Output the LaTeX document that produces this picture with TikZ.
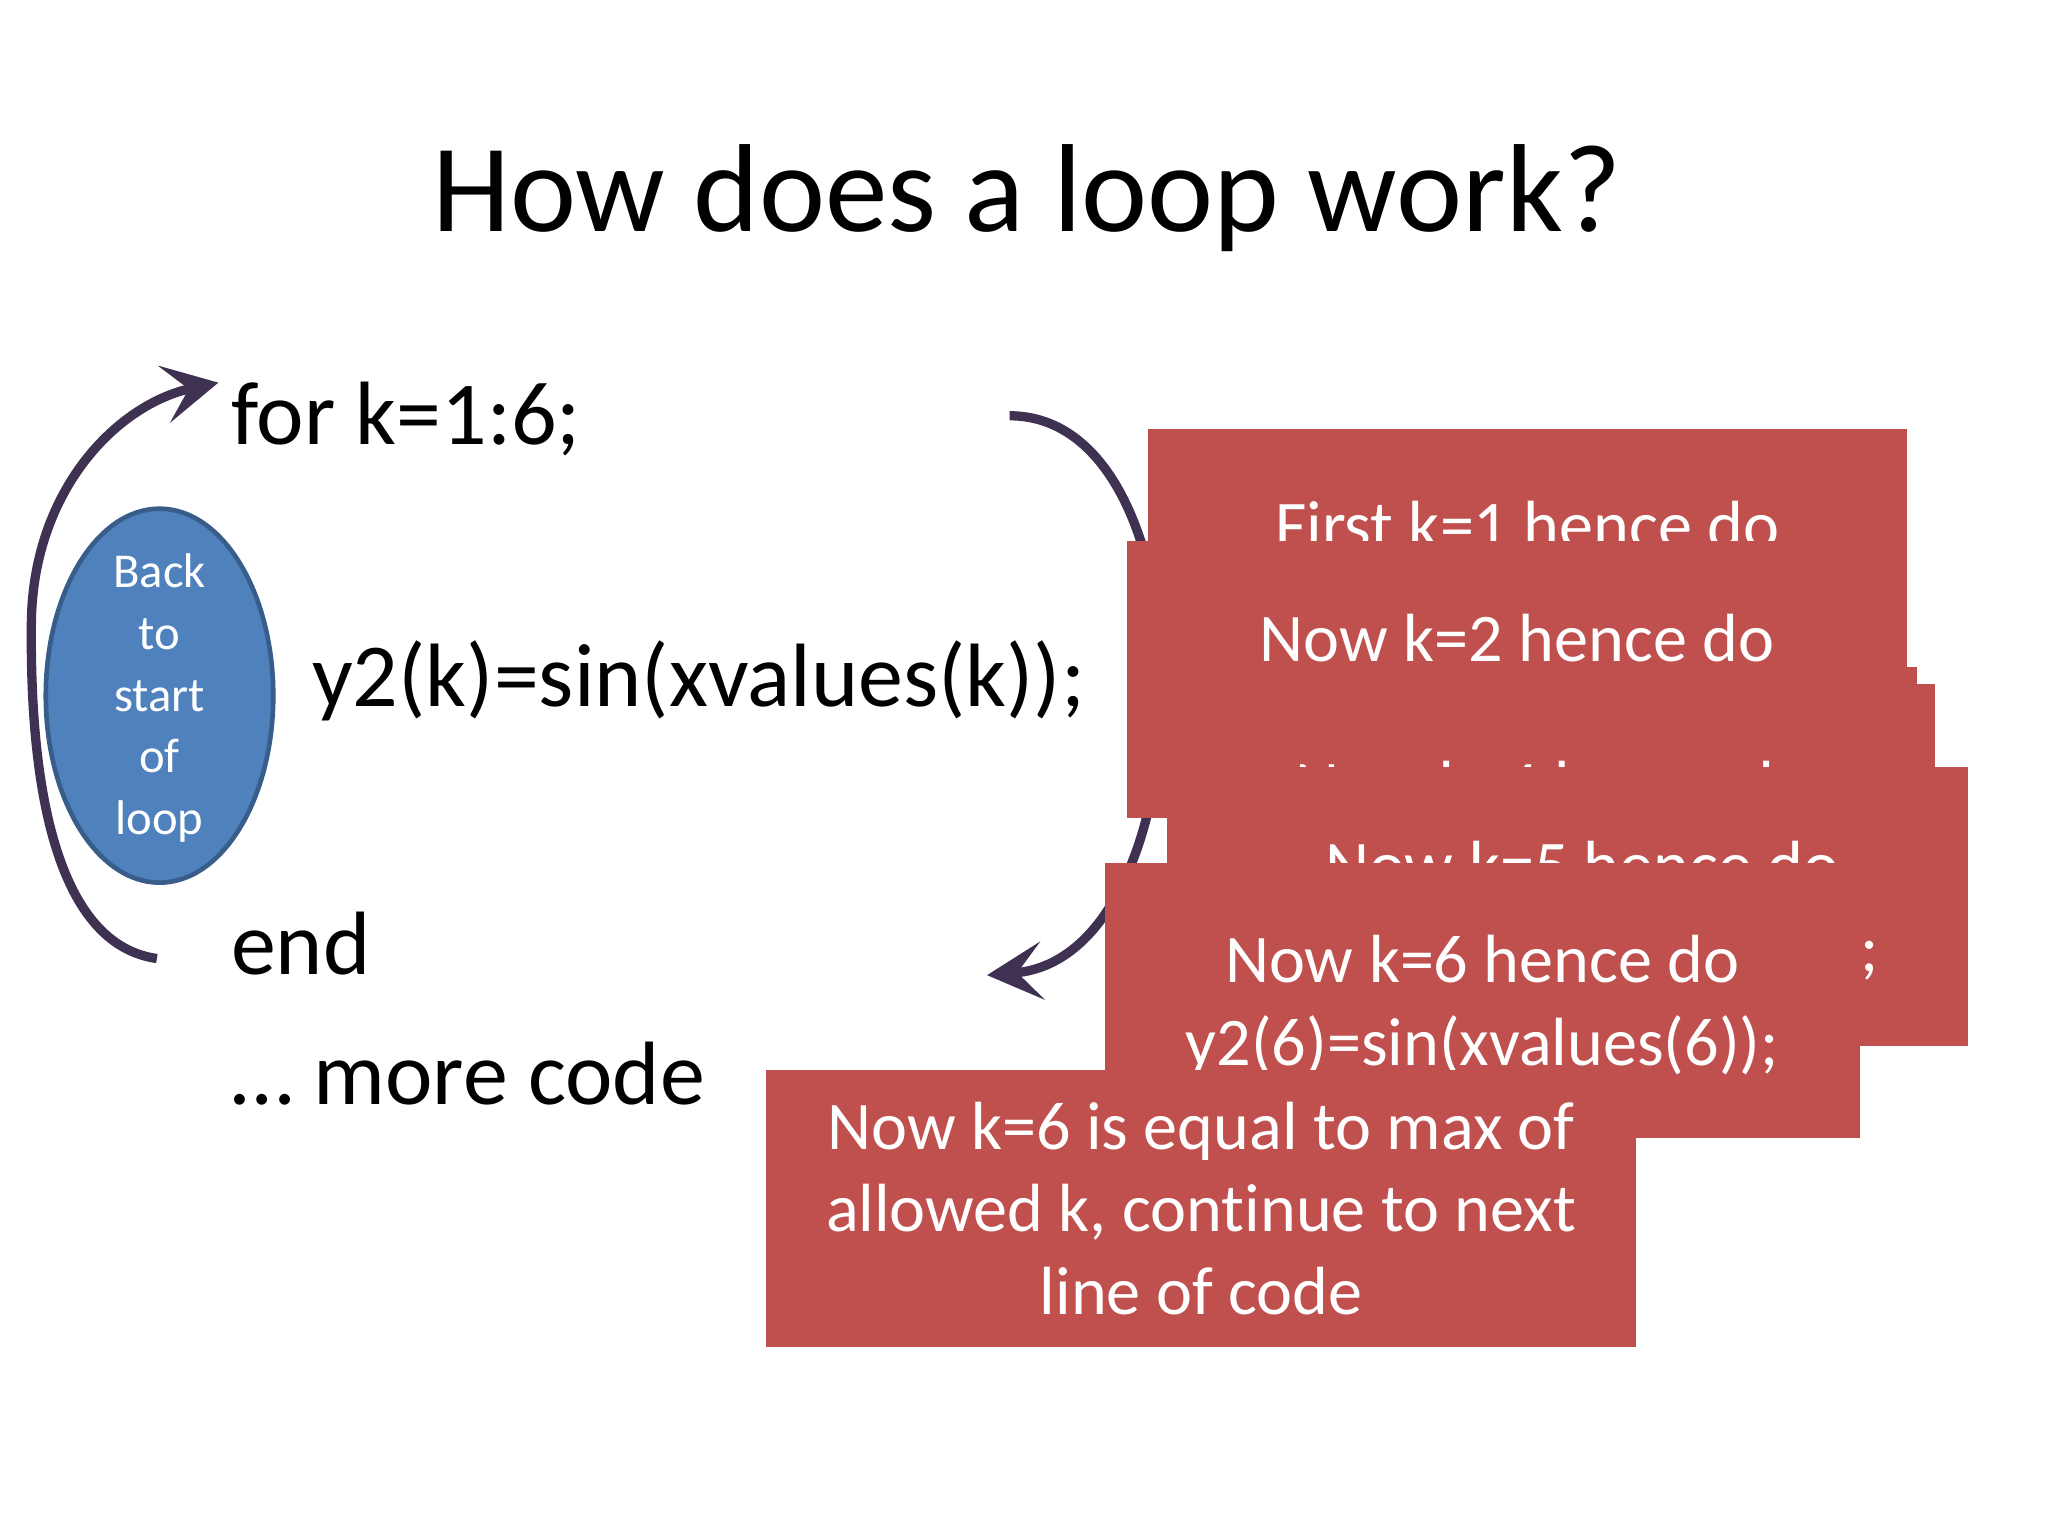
\documentclass[tikz,border=0pt]{standalone}
\usepackage{fontspec}
\setmainfont{Carlito}[Ligatures=CommonOff]
\usetikzlibrary{arrows.meta}
\definecolor{boxred}{HTML}{C0504D}
\definecolor{ovalblue}{HTML}{4F81BD}
\definecolor{ovalline}{HTML}{385D8A}
\definecolor{loopdark}{HTML}{3F3151}

\begin{document}
\begin{tikzpicture}[scale=1,
    codeline/.style={anchor=base west, inner sep=0pt, font=\fontsize{19.4}{23}\selectfont},
    stepbox/.style={fill=boxred, text=white, align=center, inner sep=0pt, text depth=0pt, font=\fontsize{14.7}{17.8}\selectfont},
    looparrow/.style={draw=loopdark, line width=2pt, -{Stealth[length=4.2mm, width=4.4mm, inset=1.9mm]}}]
            \useasboundingbox (0, 0) rectangle (15.52, 11.64);
            \node[anchor=base, inner sep=0pt, font=\fontsize{27}{32}\selectfont] (title) at (7.78, 9.886) {How does a loop work?};
            % the code
            \node[codeline] (for) at (1.744, 8.271) {for k=1:6;};
            \node[codeline] (body) at (2.359, 6.289) {y2(k)=sin(xvalues(k));};
            \node[codeline] (end) at (1.744, 4.257) {end};
            \node[codeline] (more) at (1.744, 3.266) {… more code};
            % back to the start
            \draw[fill=ovalblue, draw=ovalline, line width=1pt] (1.209, 6.368) ellipse [x radius=0.862, y radius=1.417];
            \node[text=white, align=center, inner sep=0pt, font=\fontsize{10.5}{13.3}\selectfont] (back) at (1.209, 6.348) {Back\\to\\start\\of\\loop};
            \coordinate (l0) at (1.189, 4.376);
            \coordinate (lm) at (0.238, 6.943);
            \coordinate (l1) at (1.655, 8.74);
            \draw[looparrow] (l0) .. controls (0.545, 4.465) and (0.218, 5.357) .. (lm) .. controls (0.258, 7.934) and (0.892, 8.578) .. (l1);
            % into the loop
            \coordinate (r0) at (7.651, 8.489);
            \coordinate (r1) at (7.48, 4.25);
            \draw[looparrow] (r0) .. controls (9.206, 8.489) and (9.167, 4.386) .. (r1);
            % one box per pass
            \node[stepbox, minimum width=5.748cm, minimum height=2.081cm] (k1) at (11.575, 7.349) {First k=1 hence do\\y2(1)=sin(xvalues(1));};
            \node[stepbox, minimum width=5.906cm, minimum height=2.10cm] (k2) at (11.496, 6.49) {Now k=2 hence do\\y2(2)=sin(xvalues(2));};
            \node[stepbox, minimum width=5.688cm, minimum height=2.081cm] (k3) at (11.684, 5.545) {Now k=3 hence do\\y2(3)=sin(xvalues(3));};
            \node[stepbox, minimum width=5.797cm, minimum height=2.16cm] (k4) at (11.768, 5.38) {Now k=4 hence do\\y2(4)=sin(xvalues(4));};
            \node[stepbox, minimum width=5.847cm, minimum height=2.12cm] (k5) at (11.991, 4.77) {Now k=5 hence do\\y2(5)=sin(xvalues(5));};
            \node[stepbox, minimum width=5.718cm, minimum height=2.081cm] (k6) at (11.233, 4.059) {Now k=6 hence do\\y2(6)=sin(xvalues(6));};
            \node[stepbox, minimum width=6.590cm, minimum height=2.101cm] (done) at (9.102, 2.483) {Now k=6 is equal to max of\\allowed k, continue to next\\line of code};
        \end{tikzpicture}
\end{document}
